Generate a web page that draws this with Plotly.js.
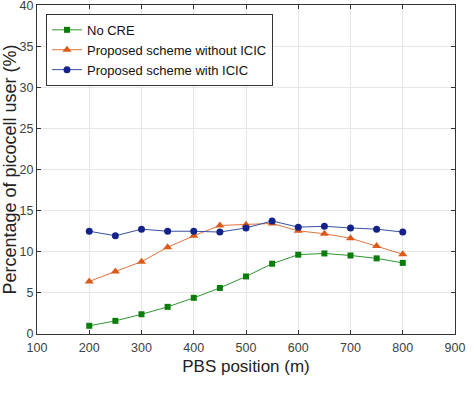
<!DOCTYPE html>
<html><head><meta charset="utf-8">
<script src="https://cdn.plot.ly/plotly-3.0.1.min.js"></script>
<style>html,body{margin:0;padding:0;background:#fff;}#chart{width:474px;height:396px;}</style>
</head><body><div id="chart"></div>
<script>
const positions = [200,250,300,350,400,450,500,550,600,650,700,750,800];
const noCRE = [1.0,1.6,2.4,3.3,4.4,5.6,7.0,8.55,9.65,9.8,9.55,9.2,8.65];
const withoutICIC = [6.4,7.6,8.8,10.55,11.95,13.2,13.3,13.45,12.55,12.2,11.65,10.7,9.7];
const withICIC = [12.5,11.95,12.75,12.5,12.5,12.4,12.9,13.75,13.0,13.1,12.9,12.75,12.4];
const seriesNames = ["No CRE","Proposed scheme without ICIC","Proposed scheme with ICIC"];

const font = "Liberation Sans, Arial, Helvetica, sans-serif";
const traces = [
  {x: positions, y: noCRE, name: seriesNames[0], mode: "lines+markers",
   line: {color: "#2f962f", width: 1}, marker: {symbol: "square", size: 6, color: "#0b7d0b"}},
  {x: positions, y: withoutICIC, name: seriesNames[1], mode: "lines+markers",
   line: {color: "#e0733f", width: 1}, marker: {symbol: "triangle-up", size: 8, color: "#db5a1a"}},
  {x: positions, y: withICIC, name: seriesNames[2], mode: "lines+markers",
   line: {color: "#3a4fa0", width: 1}, marker: {symbol: "circle", size: 7, color: "#14238a"}}
];
const axisCommon = {
  showline: true, linecolor: "#333", linewidth: 1, mirror: "ticks",
  ticks: "inside", ticklen: 4, tickcolor: "#333",
  showgrid: true, gridcolor: "#e6e6e6", gridwidth: 1, zeroline: false,
  tickfont: {family: font, size: 12.5, color: "#404040"}
};
const layout = {
  width: 474, height: 396,
  margin: {l: 37, r: 19, t: 5, b: 62},
  paper_bgcolor: "#fff", plot_bgcolor: "#fff",
  showlegend: true,
  legend: {x: 0.0215, y: 0.973, xanchor: "left", yanchor: "top",
           bordercolor: "#333", borderwidth: 1, bgcolor: "#fff",
           font: {family: font, size: 13, color: "#111"},
           itemwidth: 30, tracegroupgap: 0},
  xaxis: Object.assign({}, axisCommon, {
    range: [100, 900], tickvals: [100,200,300,400,500,600,700,800,900],
    ticklabelstandoff: 2,
    title: {text: "PBS position (m)", font: {family: font, size: 17, color: "#222"}, standoff: 6}
  }),
  yaxis: Object.assign({}, axisCommon, {
    range: [0, 40.02], tickvals: [0,5,10,15,20,25,30,35,40],
    ticklabeloverflow: "allow",
    title: {text: "Percentage of picocell user (%)", font: {family: font, size: 18, color: "#222"}, standoff: 6}
  })
};
Plotly.newPlot("chart", traces, layout, {displayModeBar: false, staticPlot: true});
</script></body></html>
